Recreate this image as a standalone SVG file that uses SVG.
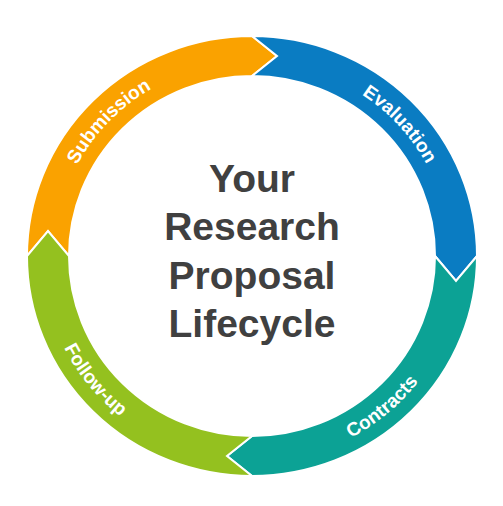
<svg xmlns="http://www.w3.org/2000/svg" width="503" height="506" viewBox="0 0 503 506">
  <style>
    .seg { stroke: #ffffff; stroke-width: 2; stroke-linejoin: miter; }
    .lbl { font-family: "Liberation Sans", Arial, sans-serif; font-weight: bold; font-size: 19px; fill: #ffffff; }
    .title { font-family: "Liberation Sans", Arial, sans-serif; font-weight: bold; font-size: 39px; fill: #404040; text-anchor: middle; }
  </style>
  <defs>
    <path id="pSub" d="M54.12,262.77 A198 194 0 0 1 248.54,62.03"/>
    <path id="pEval" d="M262.36,62.27 A198 194 0 0 1 449.73,266.15"/>
    <path id="pCon" d="M235.52,461.37 A210 206 0 0 0 461.35,272.16"/>
    <path id="pFol" d="M43.31,233.04 A210 206 0 0 0 228.59,460.72"/>
  </defs>
  <rect width="503" height="506" fill="#ffffff"/>
  <g id="connectors"/>
  <g id="submission">
    <path class="seg" fill="#FAA200" d="M27,256 A225 220 0 0 1 252,36 L277,56 L252,76 A183 180 0 0 0 69,256 L48,231 Z"/>
    <text class="lbl"><textPath href="#pSub" startOffset="50%" text-anchor="middle">Submission</textPath></text>
  </g>
  <g id="evaluation">
    <path class="seg" fill="#0A7CC2" d="M252,36 A225 220 0 0 1 477,256 L456,281 L435,256 A183 180 0 0 0 252,76 L277,56 Z"/>
    <text class="lbl"><textPath href="#pEval" startOffset="50%" text-anchor="middle">Evaluation</textPath></text>
  </g>
  <g id="contracts">
    <path class="seg" fill="#0CA295" d="M477,256 A225 220 0 0 1 252,476 L227,456 L252,436 A183 180 0 0 0 435,256 L456,281 Z"/>
    <text class="lbl"><textPath href="#pCon" startOffset="50%" text-anchor="middle">Contracts</textPath></text>
  </g>
  <g id="followup">
    <path class="seg" fill="#94C11F" d="M252,476 A225 220 0 0 1 27,256 L48,231 L69,256 A183 180 0 0 0 252,436 L227,456 Z"/>
    <text class="lbl"><textPath href="#pFol" startOffset="50%" text-anchor="middle">Follow-up</textPath></text>
  </g>
  <g id="center">
    <text class="title" x="252" y="192">Your</text>
    <text class="title" x="252" y="240">Research</text>
    <text class="title" x="252" y="289">Proposal</text>
    <text class="title" x="252" y="337">Lifecycle</text>
  </g>
</svg>
